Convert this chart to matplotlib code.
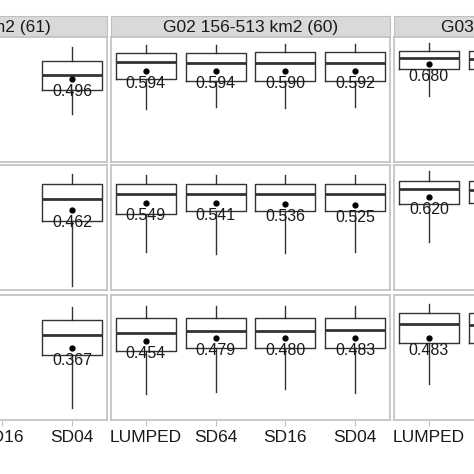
import matplotlib
matplotlib.use("Agg")
import matplotlib.pyplot as plt

plt.rcParams['font.family'] = ['Liberation Sans', 'DejaVu Sans']

categories = ["LUMPED", "SD64", "SD16", "SD04"]
strip_labels = ["G01 10-155 km2 (61)", "G02 156-513 km2 (60)", "G03 514-5000 km2 (61)"]

# per row, per panel: list of (category, whislo, q1, med, q3, whishi, mean)
row1 = [
    [("SD04", 0.07, 0.36, 0.54, 0.71, 0.88, 0.496)],
    [("LUMPED", 0.14, 0.49, 0.70, 0.81, 0.90, 0.594),
     ("SD64", 0.16, 0.47, 0.69, 0.81, 0.90, 0.594),
     ("SD16", 0.15, 0.47, 0.69, 0.82, 0.91, 0.590),
     ("SD04", 0.16, 0.47, 0.69, 0.82, 0.91, 0.592)],
    [("LUMPED", 0.29, 0.61, 0.75, 0.83, 0.93, 0.680),
     ("SD64", 0.30, 0.61, 0.74, 0.83, 0.93, 0.675)],
]
row2 = [
    [("SD04", -0.45, 0.33, 0.59, 0.77, 0.89, 0.462)],
    [("LUMPED", -0.05, 0.41, 0.65, 0.77, 0.88, 0.549),
     ("SD64", -0.07, 0.45, 0.65, 0.77, 0.88, 0.541),
     ("SD16", -0.06, 0.45, 0.65, 0.77, 0.88, 0.536),
     ("SD04", -0.05, 0.45, 0.65, 0.77, 0.88, 0.525)],
    [("LUMPED", 0.08, 0.53, 0.71, 0.81, 0.93, 0.620),
     ("SD64", 0.08, 0.54, 0.70, 0.81, 0.93, 0.615)],
]
row3 = [
    [("SD04", -0.35, 0.28, 0.52, 0.70, 0.86, 0.367)],
    [("LUMPED", -0.19, 0.33, 0.54, 0.73, 0.87, 0.454),
     ("SD64", -0.16, 0.36, 0.57, 0.73, 0.87, 0.479),
     ("SD16", -0.13, 0.37, 0.57, 0.73, 0.87, 0.480),
     ("SD04", -0.18, 0.36, 0.58, 0.73, 0.87, 0.483)],
    [("LUMPED", -0.07, 0.42, 0.65, 0.78, 0.89, 0.483),
     ("SD64", -0.06, 0.43, 0.64, 0.78, 0.89, 0.480)],
]
rows = [row1, row2, row3]

W = H = 474.0
fig = plt.figure(figsize=(4.74, 4.74), dpi=100)
panel_x = [-172, 111, 394]
panel_w = 279
row_tops = [37, 165, 295]
row_h = 125
strip_top, strip_bot = 16, 37
border = "#c0c0c0"
line = "#333333"

for c, px in enumerate(panel_x):
    sax = fig.add_axes([px / W, 1 - strip_bot / H, panel_w / W, (strip_bot - strip_top) / H])
    sax.set_facecolor("#d9d9d9")
    sax.set_xticks([]); sax.set_yticks([])
    for s in sax.spines.values():
        s.set_color(border)
    sax.text(0.5, 0.45, strip_labels[c], ha="center", va="center", fontsize=12.5,
             color="#1a1a1a", transform=sax.transAxes)
    for r, top in enumerate(row_tops):
        ax = fig.add_axes([px / W, 1 - (top + row_h) / H, panel_w / W, row_h / H])
        ax.set_xlim(0.5, 4.5)
        ax.set_ylim(-0.5, 1.0)
        ax.set_yticks([])
        for s in ax.spines.values():
            s.set_color(border); s.set_linewidth(1.2)
        stats = []
        pos = []
        for (cat, wl, q1, med, q3, wh, mean) in rows[r][c]:
            stats.append(dict(whislo=wl, q1=q1, med=med, q3=q3, whishi=wh, fliers=[]))
            pos.append(categories.index(cat) + 1)
        ax.bxp(stats, positions=pos, widths=0.86, showcaps=False,
               boxprops=dict(color=line, linewidth=1.0),
               whiskerprops=dict(color=line, linewidth=1.0),
               medianprops=dict(color=line, linewidth=2.0))
        for p, (cat, wl, q1, med, q3, wh, mean) in zip(pos, rows[r][c]):
            ax.plot(p, mean, "o", color="black", markersize=3.5, zorder=5)
            ax.text(p, mean - 0.15, f"{mean:.3f}", ha="center", va="center",
                    fontsize=11.5, color="#1a1a1a", zorder=6)
        if r == 2:
            ax.set_xticks(range(1, 5))
            ax.set_xticklabels(categories, fontsize=12.5, color="#1a1a1a")
            ax.tick_params(axis="x", length=4, color=border, pad=3)
        else:
            ax.set_xticks([])

fig.savefig("out.png", dpi=100, facecolor="white")
